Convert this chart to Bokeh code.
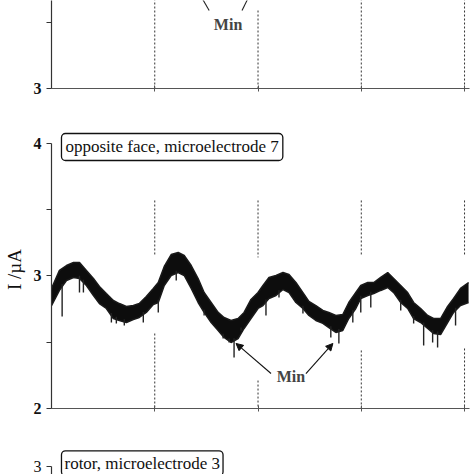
from bokeh.plotting import figure
from bokeh.layouts import column
from bokeh.models import (Label, Arrow, NormalHead, FixedTicker, Range1d,
                          CustomJSTickFormatter)
from bokeh.embed import file_html
from bokeh.resources import INLINE
import numpy as np

SERIF = "Liberation Serif"

# ---------------- data ----------------
# time in rotation periods; current in microampere
t_env = [0.000, 0.077, 0.145, 0.213, 0.271, 0.338, 0.406, 0.464, 0.531, 0.599,
         0.657, 0.725, 0.792, 0.850, 0.918, 0.986, 1.034, 1.092, 1.159, 1.227,
         1.285, 1.353, 1.420, 1.478, 1.546, 1.614, 1.671, 1.739, 1.807, 1.865,
         1.932, 2.000, 2.048, 2.106, 2.174, 2.242, 2.300, 2.367, 2.435, 2.493,
         2.560, 2.628, 2.686, 2.754, 2.821, 2.879, 2.947, 2.995, 3.063, 3.121,
         3.188, 3.256, 3.314, 3.382, 3.449, 3.507, 3.575, 3.643, 3.700, 3.768,
         3.836, 3.894, 3.961, 4.039]
i_upper = [2.906, 3.042, 3.079, 3.102, 3.102, 3.042, 2.981, 2.921, 2.868, 2.815,
           2.792, 2.770, 2.777, 2.792, 2.845, 2.906, 2.951, 3.072, 3.162, 3.177,
           3.155, 3.079, 2.981, 2.875, 2.800, 2.725, 2.687, 2.664, 2.679, 2.725,
           2.823, 2.875, 2.928, 2.989, 3.004, 3.026, 3.011, 2.951, 2.875, 2.808,
           2.777, 2.740, 2.725, 2.702, 2.709, 2.800, 2.875, 2.928, 2.951, 2.951,
           2.989, 3.026, 2.981, 2.928, 2.875, 2.800, 2.755, 2.702, 2.679, 2.679,
           2.770, 2.830, 2.906, 2.951]
i_lower = [2.777, 2.891, 2.966, 2.989, 2.981, 2.928, 2.853, 2.792, 2.755, 2.679,
           2.664, 2.649, 2.672, 2.687, 2.725, 2.785, 2.800, 2.928, 3.004, 3.026,
           3.004, 2.906, 2.800, 2.725, 2.649, 2.589, 2.536, 2.498, 2.528, 2.604,
           2.679, 2.755, 2.777, 2.830, 2.853, 2.898, 2.875, 2.800, 2.755, 2.702,
           2.664, 2.642, 2.611, 2.574, 2.589, 2.679, 2.755, 2.830, 2.853, 2.868,
           2.891, 2.913, 2.875, 2.800, 2.755, 2.679, 2.649, 2.604, 2.566, 2.558,
           2.649, 2.725, 2.777, 2.800]

# downward noise spikes: time and lowest value
spike_t = [0.103, 0.271, 0.309, 0.580, 0.628, 0.705, 0.889, 1.034, 1.208, 1.478,
           1.662, 1.720, 1.768, 1.836, 2.077, 2.203, 2.435, 2.705, 2.783, 2.918,
           2.995, 3.092, 3.382, 3.507, 3.604, 3.691, 3.739, 3.913]
spike_i = [2.694, 2.875, 2.875, 2.649, 2.642, 2.626, 2.649, 2.725, 2.966, 2.702,
           2.528, 2.498, 2.385, 2.611, 2.702, 2.838, 2.717, 2.536, 2.491, 2.649,
           2.725, 2.762, 2.740, 2.642, 2.475, 2.498, 2.460, 2.626]

# period marks (vertical dashed guides)
period_t = [1, 2, 3, 4]
top_guide_from = [3.0, 3.0, 3.0, 3.0]
top_guide_to = [3.70, 3.596, 3.70, 3.70]
mid_upper_from = [3.570, 3.570, 3.570, 3.570]
mid_upper_to = [3.155, 3.140, 3.155, 3.155]
mid_lower_from = [2.566, 2.211, 2.438, 2.453]
mid_lower_to = [2.0, 2.0, 2.0, 2.0]

y_ticks = [2, 3, 4]
y_minor = [2.5, 3.5]

panel_titles = ["opposite face, microelectrode 7", "rotor, microelectrode 3"]

X_RANGE = (0, 4.048)
W = 474


def style(p, ticks_x=True):
    p.toolbar_location = None
    p.outline_line_color = None
    p.xgrid.visible = False
    p.ygrid.visible = False
    p.background_fill_color = None
    p.border_fill_color = None
    ya = p.yaxis[0]
    ya.ticker = FixedTicker(ticks=y_ticks, minor_ticks=y_minor)
    ya.axis_line_color = "#333333"
    ya.axis_line_width = 1.2
    ya.major_tick_line_color = "#333333"
    ya.minor_tick_line_color = "#333333"
    ya.major_tick_out = 5
    ya.major_tick_in = 0
    ya.minor_tick_out = 5
    ya.minor_tick_in = 0
    ya.major_label_text_font = SERIF
    ya.major_label_text_font_size = "16px"
    ya.major_label_text_font_style = "bold"
    ya.major_label_text_color = "#111111"
    ya.major_label_standoff = 5
    xa = p.xaxis[0]
    if ticks_x:
        xa.ticker = FixedTicker(ticks=period_t, minor_ticks=[])
        xa.formatter = CustomJSTickFormatter(code="return ''")
        xa.major_label_standoff = 0
        xa.axis_line_color = "#555555"
        xa.axis_line_width = 1.2
        xa.major_tick_line_color = "#555555"
        xa.major_tick_in = 3
        xa.major_tick_out = 3
        xa.minor_tick_line_color = None
    else:
        xa.visible = False


def title_box(x, y, text, pad):
    return Label(x=x, y=y, text=text, text_font=SERIF, text_font_size="17px",
                 text_align="left", text_baseline="top", text_color="#111111",
                 background_fill_color="white", border_line_color="#111111",
                 border_line_width=1.3, border_radius=4, padding=pad)


# ---------------- top panel (only its lower part visible) ----------------
top = figure(width=W, height=100, output_backend="svg", toolbar_location=None,
             x_range=Range1d(*X_RANGE), y_range=Range1d(3.0, 3.664),
             min_border_left=50, min_border_right=5, min_border_top=0,
             min_border_bottom=12)
style(top)
top.segment(x0=period_t, x1=period_t, y0=top_guide_from, y1=top_guide_to,
            line_color="#333333", line_width=1, line_dash="2 2")
top.segment(x0=[1.527, 1.845], x1=[1.459, 1.903], y0=[3.589, 3.589],
            y1=[3.68, 3.68], line_color="#222222", line_width=1.1)
top.add_layout(Label(x=1.710, y=3.483, text="Min", text_font=SERIF,
                     text_font_size="16px", text_font_style="bold",
                     text_align="center", text_baseline="middle"))

# ---------------- middle panel ----------------
# frame reaches a little above the value 4 so the title box is not clipped
mid = figure(width=W, height=340, output_backend="svg", toolbar_location=None,
             x_range=Range1d(*X_RANGE), y_range=Range1d(2.0, 4.098),
             min_border_left=50, min_border_right=5, min_border_top=30,
             min_border_bottom=32)
style(mid)
mid.yaxis[0].bounds = (2, 4)
mid.yaxis[0].axis_label = "I /\u00b5A"
mid.yaxis[0].axis_label_text_font = SERIF
mid.yaxis[0].axis_label_text_font_size = "19px"
mid.yaxis[0].axis_label_text_font_style = "normal"
mid.yaxis[0].axis_label_text_color = "#111111"
mid.yaxis[0].axis_label_standoff = 6

mid.segment(x0=period_t, x1=period_t, y0=mid_upper_from, y1=mid_upper_to,
            line_color="#333333", line_width=1, line_dash="2 2")
mid.segment(x0=period_t, x1=period_t, y0=mid_lower_from, y1=mid_lower_to,
            line_color="#333333", line_width=1, line_dash="2 2")

mid.varea(x=t_env, y1=i_lower, y2=i_upper, fill_color="#0d0d0d")
mid.line(t_env, i_upper, line_color="#1a1a1a", line_width=1.5)
mid.line(t_env, i_lower, line_color="#1a1a1a", line_width=1.5)
spike_base = np.interp(spike_t, t_env, i_lower) + 0.02
mid.segment(x0=spike_t, x1=spike_t, y0=spike_base, y1=spike_i,
            line_color="#222222", line_width=1.4)

mid.add_layout(title_box(0.0966, 4.0755, panel_titles[0], 4))
mid.add_layout(Label(x=2.319, y=2.2415, text="Min", text_font=SERIF,
                     text_font_size="16px", text_font_style="bold",
                     text_align="center", text_baseline="middle"))
head = dict(size=7, fill_color="#111111", line_color="#111111")
mid.add_layout(Arrow(end=NormalHead(**head), x_start=2.126, y_start=2.264,
                     x_end=1.787, y_end=2.491, line_color="#111111",
                     line_width=1.1))
mid.add_layout(Arrow(end=NormalHead(**head), x_start=2.464, y_start=2.264,
                     x_end=2.725, y_end=2.491, line_color="#111111",
                     line_width=1.1))

# ---------------- bottom panel (only its top visible) ----------------
bot = figure(width=W, height=34, output_backend="svg", toolbar_location=None,
             x_range=Range1d(*X_RANGE), y_range=Range1d(2.9396, 3.1358),
             min_border_left=50, min_border_right=5, min_border_top=8,
             min_border_bottom=0)
style(bot, ticks_x=False)
bot.yaxis[0].ticker = FixedTicker(ticks=y_ticks, minor_ticks=[])
bot.yaxis[0].bounds = (2.9, 3)
bot.yaxis[0].major_label_text_font_style = "normal"
bot.add_layout(title_box(0.0966, 3.118, panel_titles[1], 3))

layout = column(top, mid, bot, spacing=0)

open("out.html", "w").write(file_html(layout, INLINE))
